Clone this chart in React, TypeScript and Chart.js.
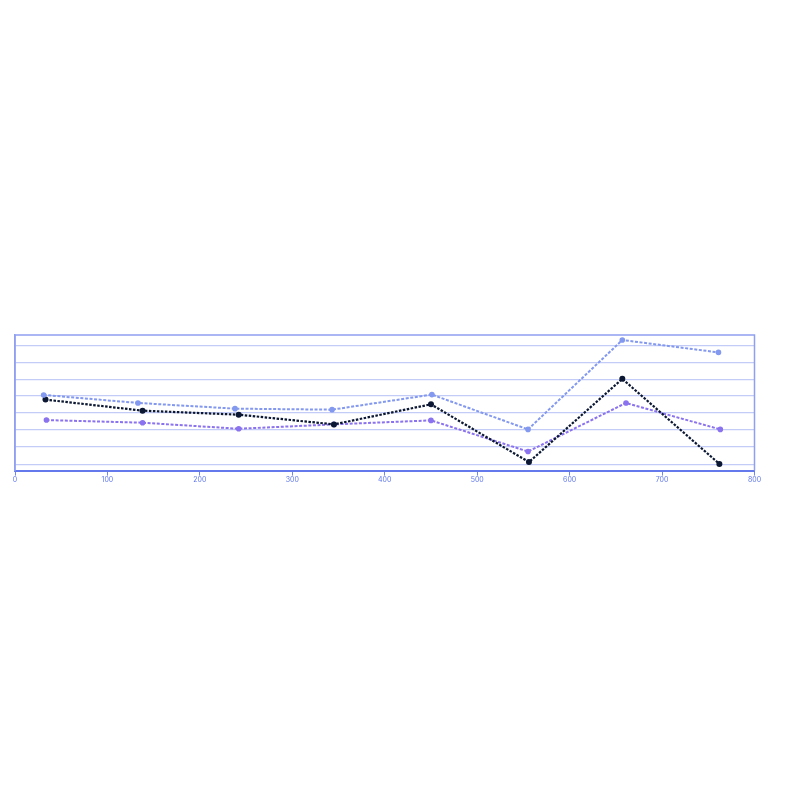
import React, { useEffect, useRef } from "react";
import { Chart, registerables } from "chart.js";

Chart.register(...registerables);

const xTickStep = 100;
const xMin = 0;
const xMax = 800;
const yMin = -4.6;
const yMax = 76.4;
const yGridValues = [-1.2, 10, 20, 30, 40, 50, 60, 70];

const seriesAX = [31, 133, 238, 343, 451, 555, 657, 761];
const seriesAY = [40.6, 35.8, 32.4, 31.8, 40.8, 20.0, 73.4, 66.0];
const seriesBX = [33, 138, 242, 345, 450, 556, 657, 762];
const seriesBY = [37.8, 31.2, 28.8, 23.0, 35.0, 0.5, 50.2, -0.6];
const seriesCX = [34, 138, 242, 345, 450, 555, 661, 763];
const seriesCY = [25.6, 24.0, 20.4, 23.0, 25.4, 6.8, 35.8, 20.0];

const zip = (xs: number[], ys: number[]) => xs.map((x, i) => ({ x, y: ys[i] }));

const framePlugin = {
  id: "frame",
  beforeDatasetsDraw(chart: any) {
    const { ctx, chartArea } = chart;
    ctx.save();
    ctx.strokeStyle = "#8fa0f1";
    ctx.lineWidth = 1.5;
    ctx.beginPath();
    ctx.moveTo(chartArea.left, chartArea.bottom);
    ctx.lineTo(chartArea.left, chartArea.top);
    ctx.lineTo(chartArea.right, chartArea.top);
    ctx.lineTo(chartArea.right, chartArea.bottom);
    ctx.stroke();
    ctx.restore();
  },
};

export default function App() {
  const ref = useRef<HTMLCanvasElement>(null);
  useEffect(() => {
    if (!ref.current) return;
    const chart = new Chart(ref.current, {
      type: "line",
      data: {
        datasets: [
          {
            data: zip(seriesAX, seriesAY),
            borderColor: "#8398ef",
            backgroundColor: "#8398ef",
            borderWidth: 2,
            borderDash: [3, 1.6],
            pointRadius: 2.8,
            pointBorderWidth: 0,
            fill: false,
            tension: 0,
          },
          {
            data: zip(seriesBX, seriesBY),
            borderColor: "#0b1733",
            backgroundColor: "#0b1733",
            borderWidth: 2.2,
            borderDash: [2.5, 1.5],
            pointRadius: 3,
            pointBorderWidth: 0,
            fill: false,
            tension: 0,
          },
          {
            data: zip(seriesCX, seriesCY),
            borderColor: "#8b72ee",
            backgroundColor: "#8b72ee",
            borderWidth: 2,
            borderDash: [3, 1.6],
            pointRadius: 2.8,
            pointBorderWidth: 0,
            fill: false,
            tension: 0,
          },
        ],
      },
      options: {
        animation: false,
        responsive: true,
        maintainAspectRatio: false,
        layout: { padding: { left: 7, right: 37.5, top: 10, bottom: 10 } },
        plugins: { legend: { display: false }, tooltip: { enabled: false } },
        scales: {
          x: {
            type: "linear",
            min: xMin,
            max: xMax,
            grid: {
              drawOnChartArea: false,
              drawTicks: true,
              tickLength: 5,
              color: "#6f86ec",
            },
            border: { display: true, color: "#6479ec", width: 2 },
            ticks: {
              stepSize: xTickStep,
              padding: 0,
              color: "#5f77e9",
              font: { family: "Inter, 'Noto Sans', sans-serif", size: 7 },
              maxRotation: 0,
            },
          },
          y: {
            type: "linear",
            min: yMin,
            max: yMax,
            afterBuildTicks: (scale: any) => {
              scale.ticks = yGridValues.map((v) => ({ value: v }));
            },
            grid: { color: "#c3ccf6", lineWidth: 1.2, drawTicks: false },
            border: { display: true, color: "#8fa0f1", width: 1.5 },
            ticks: { display: false },
          },
        },
      },
      plugins: [framePlugin],
    });
    return () => chart.destroy();
  }, []);
  return (
    <div style={{ width: 784, height: 169, marginTop: 317, position: "relative" }}>
      <canvas ref={ref} />
    </div>
  );
}
